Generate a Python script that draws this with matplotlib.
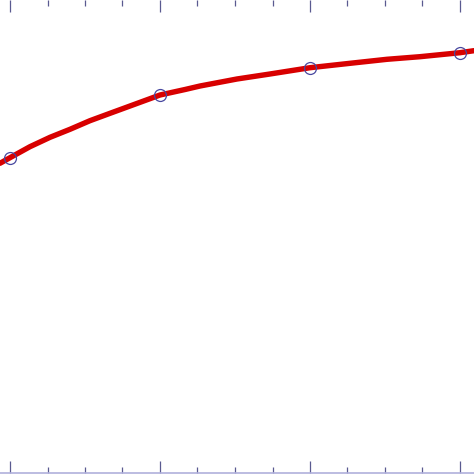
import numpy as np
import matplotlib
matplotlib.use("Agg")
import matplotlib.pyplot as plt

# curve
curve_x = [0.933, 1.0, 1.133, 1.267, 1.4, 1.533, 1.667, 1.8, 1.933, 2.0,
           2.167, 2.267, 2.513, 2.733, 3.0, 3.267, 3.513, 3.733, 4.0, 4.093]
curve_y = [3.097, 3.153, 3.263, 3.357, 3.437, 3.523, 3.597, 3.67, 3.743, 3.78,
           3.835, 3.87, 3.94, 3.99, 4.053, 4.097, 4.137, 4.163, 4.203, 4.223]

# sample points (circles)
pts_x = [1, 2, 3, 4]
pts_y = [3.153, 3.78, 4.053, 4.203]

fig = plt.figure(figsize=(4.74, 4.74), dpi=100)
ax = fig.add_axes([0, 1 / 474, 1, 473 / 474])

ax.plot(curve_x, curve_y, color='#d80000', linewidth=3.9, solid_capstyle='round',
        solid_joinstyle='round', zorder=2)
ax.plot(pts_x, pts_y, 'o', markersize=8.6, markerfacecolor='none',
        markeredgecolor='#4848a0', markeredgewidth=0.9, zorder=3)

ax.set_xticks([1, 2, 3, 4])
ax.set_xticks(np.arange(0.25, 4.1, 0.25), minor=True)
ax.set_yticks([])
ax.set_xlim(1 - 10 / 150, 1 + 464 / 150)
ax.set_ylim(0, 4.73)

ax.tick_params(axis='x', which='both', direction='in', top=True, bottom=True,
               labelbottom=False, labeltop=False, color='#5a5a90')
ax.tick_params(axis='x', which='major', length=8.6, width=0.9)
ax.tick_params(axis='x', which='minor', length=4.3, width=0.9)

for side in ['left', 'right', 'top']:
    ax.spines[side].set_visible(False)
ax.spines['bottom'].set_color('#b0b0dc')
ax.spines['bottom'].set_linewidth(1.2)

fig.savefig('out.png', dpi=100)
